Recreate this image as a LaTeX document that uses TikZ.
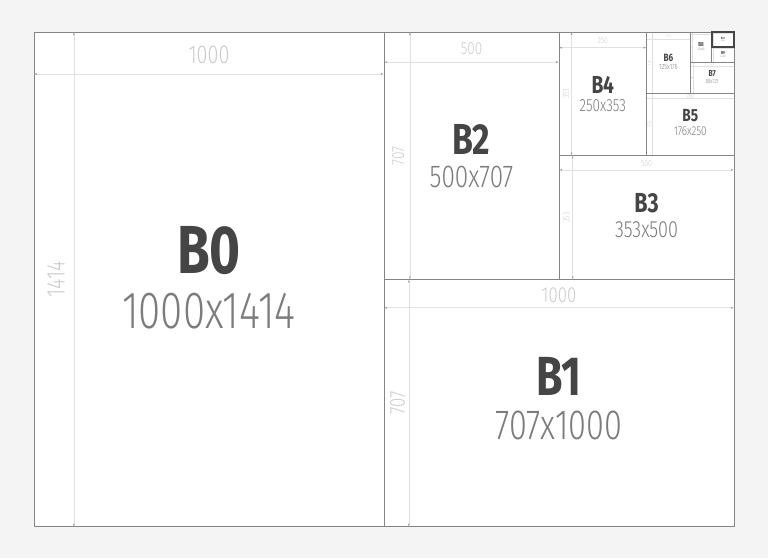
\documentclass[tikz,border=0pt]{standalone}
\usepackage{fontspec}
\usetikzlibrary{arrows.meta}
\newfontfamily\condfont{Fira Sans}[FakeStretch=0.78]
\newfontfamily\condlight{Fira Sans Light}[FakeStretch=0.77]
\definecolor{paper}{HTML}{F4F4F4}
\definecolor{edge}{HTML}{858585}
\definecolor{ink}{HTML}{454545}
\definecolor{sizeink}{HTML}{7C7C7C}
\definecolor{measureline}{HTML}{E0E0E0}
\definecolor{measureink}{HTML}{CCCCCC}
\definecolor{tipgray}{HTML}{9A9A9A}

\begin{document}
\begin{tikzpicture}[x=0.0105cm, y=-0.0105cm,
    sheet/.style={draw=edge, line width=0.8pt},
    measure/.style={draw=measureline, line width=0.6pt},
    measuretips/.style={measure, {Latex[length=2.5pt,width=1.6pt,color=tipgray]}-{Latex[length=2.5pt,width=1.6pt,color=tipgray]}},
    sheetname/.style={text=ink, inner sep=0pt},
    sheetsize/.style={text=sizeink, inner sep=0pt},
    measuretext/.style={text=measureink, inner sep=0pt}]
    \fill [paper] (-97.14,-91.43) rectangle (2097.14,1502.86);
    \fill [white] (0,0) rectangle (2000,1414);
    % measuring lines
    \foreach \nm/\xa/\ya/\xb/\yb/\oh/\ov/\hw/\vw/\fs/\tp in {
        B0/0/0/1000/1414/120/114/1000/1414/22/measuretips,
        B1/1000/707/2000/1414/81/71/1000/707/18.6/measuretips,
        B2/1000/0/1500/707/86/74/500/707/15/measuretips,
        B3/1500/353/2000/707/41/39/500/353/7.5/measuretips,
        B4/1500/0/1750/353/45/36/250/353/7.5/measuretips,
        B5/1750/176/2000/353/14/16/250/176/5/measure,
        B6/1750/0/1875/176/20/16/125/176/3.7/measure,
        B7/1875/88/2000/176/9/9/125/88/3/measure,
        B8/1875/0/1937/88/6/6/62/88/2/measure,
        B9/1937/44/2000/88/4/4/62/44/1.6/measure,
        B10/1937/0/2000/44/3/3/31/44/1.2/measure} {
      \coordinate (hl\nm) at (\xa,{\ya+\oh});
      \coordinate (hr\nm) at (\xb,{\ya+\oh});
      \coordinate (vt\nm) at ({\xa+\ov},\ya);
      \coordinate (vb\nm) at ({\xa+\ov},\yb);
      \draw [\tp] (hl\nm) -- (hr\nm);
      \draw [\tp] (vt\nm) -- (vb\nm);
      \node [measuretext, font={\condlight\fontsize{\fs}{\fs}\selectfont}] (w\nm)
        at ({(\xa+\xb)/2},{\ya+0.55*\oh}) {\hw};
      \node [measuretext, rotate=90, font={\condlight\fontsize{\fs}{\fs}\selectfont}] (h\nm)
        at ({\xa+0.55*\ov},{(\ya+\yb)/2}) {\vw};
    }
    % sheets (\dy nudges the two labels down)
    \foreach \nm/\xa/\ya/\xb/\yb/\ts/\ds/\sz/\dy in {
        B0/0/0/1000/1414/58/44.6/1000x1414/14,
        B1/1000/707/2000/1414/47/36/707x1000/0,
        B2/1000/0/1500/707/37/27/500x707/12,
        B3/1500/353/2000/707/23.5/20/353x500/0,
        B4/1500/0/1750/353/21/15/250x353/8,
        B5/1750/176/2000/353/15/11/176x250/0,
        B6/1750/0/1875/176/9/6.5/125x176/0,
        B7/1875/88/2000/176/7.4/5/88x125/0,
        B8/1875/0/1937/88/5/3/62x88/0,
        B9/1937/44/2000/88/3.7/2.5/44x62/0,
        B10/1937/0/2000/44/2.5/1.9/31x44/0} {
      \draw [sheet] (\xa,\ya) rectangle (\xb,\yb);
      \coordinate (c\nm) at ({(\xa+\xb)/2},{(\ya+\yb)/2+\dy});
      \node [sheetname, anchor=south, yshift={0.075*(\ts+\ds)*1pt},
        font={\condfont\bfseries\fontsize{\ts}{\ts}\selectfont}] (n\nm) at (c\nm) {\nm};
      \node [sheetsize, anchor=north, yshift={-0.075*(\ts+\ds)*1pt},
        font={\condlight\fontsize{\ds}{\ds}\selectfont}] (s\nm) at (c\nm) {\sz};
    }
    \draw [ink, line width=1.6pt] (1937,0) rectangle (2000,44);
  \end{tikzpicture}
\end{document}
